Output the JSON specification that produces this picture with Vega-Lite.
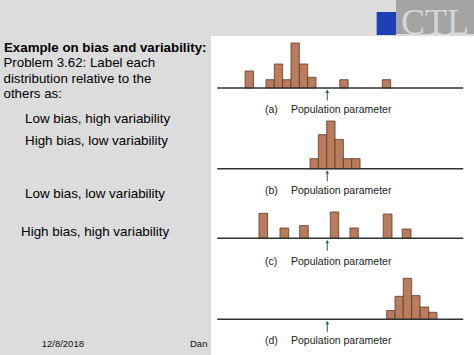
{
  "$schema": "https://vega.github.io/schema/vega-lite/v6.json",
  "autosize": {"type": "pad"},
  "padding": 0,
  "background": "#dcdcdc",
  "config": {"view": {"stroke": null}, "font": "Liberation Sans"},
  "datasets": {
    "slide": [
      {"kind": "heading", "text": "Example on bias and variability:", "x": 4, "y": 51.5},
      {"kind": "body", "text": "Problem 3.62: Label each", "x": 3.5, "y": 67},
      {"kind": "body", "text": "distribution relative to the", "x": 3.5, "y": 83},
      {"kind": "body", "text": "others as:", "x": 3.5, "y": 98},
      {"kind": "item", "text": "Low bias, high variability", "x": 25, "y": 122.5},
      {"kind": "item", "text": "High bias, low variability", "x": 25, "y": 145},
      {"kind": "item", "text": "Low bias, low variability", "x": 25, "y": 197.5},
      {"kind": "item", "text": "High bias, high variability", "x": 21, "y": 235.5},
      {"kind": "footer", "text": "12/8/2018", "x": 41.7, "y": 347},
      {"kind": "footer", "text": "Dan", "x": 190, "y": 347}
    ],
    "bars": [
      {"panel": "a", "lo": -9.85, "hi": -8.85, "height": 17},
      {"panel": "a", "lo": -7.35, "hi": -6.35, "height": 8.3},
      {"panel": "a", "lo": -6.35, "hi": -5.35, "height": 24},
      {"panel": "a", "lo": -5.35, "hi": -4.35, "height": 8.3},
      {"panel": "a", "lo": -4.35, "hi": -3.35, "height": 45},
      {"panel": "a", "lo": -3.35, "hi": -2.35, "height": 24},
      {"panel": "a", "lo": -2.35, "hi": -1.35, "height": 10.7},
      {"panel": "a", "lo": 1.5, "hi": 2.5, "height": 8.3},
      {"panel": "a", "lo": 6.6, "hi": 7.6, "height": 8.3},
      {"panel": "b", "lo": -2.07, "hi": -1.07, "height": 10},
      {"panel": "b", "lo": -1.07, "hi": -0.07, "height": 34},
      {"panel": "b", "lo": -0.07, "hi": 0.93, "height": 47.7},
      {"panel": "b", "lo": 0.93, "hi": 1.93, "height": 29.3},
      {"panel": "b", "lo": 1.93, "hi": 2.93, "height": 10},
      {"panel": "b", "lo": 2.93, "hi": 3.93, "height": 10},
      {"panel": "c", "lo": -8.19, "hi": -7.15, "height": 25},
      {"panel": "c", "lo": -5.67, "hi": -4.63, "height": 10.3},
      {"panel": "c", "lo": -3.31, "hi": -2.28, "height": 12.7},
      {"panel": "c", "lo": 0.36, "hi": 1.37, "height": 26.3},
      {"panel": "c", "lo": 2.72, "hi": 3.72, "height": 10.3},
      {"panel": "c", "lo": 6.71, "hi": 7.76, "height": 24.3},
      {"panel": "c", "lo": 8.99, "hi": 10.04, "height": 9.3},
      {"panel": "d", "lo": 7.12, "hi": 8.12, "height": 8.7},
      {"panel": "d", "lo": 8.12, "hi": 9.11, "height": 23},
      {"panel": "d", "lo": 9.11, "hi": 10.12, "height": 41},
      {"panel": "d", "lo": 10.12, "hi": 11.12, "height": 23.7},
      {"panel": "d", "lo": 11.12, "hi": 12.16, "height": 12.3},
      {"panel": "d", "lo": 12.16, "hi": 13.15, "height": 7}
    ],
    "panels": [
      {"panel": "a", "tag": "(a)", "caption": "Population parameter", "parameter": 0},
      {"panel": "b", "tag": "(b)", "caption": "Population parameter", "parameter": 0},
      {"panel": "c", "tag": "(c)", "caption": "Population parameter", "parameter": 0},
      {"panel": "d", "tag": "(d)", "caption": "Population parameter", "parameter": 0}
    ],
    "logo": [{"name": "CTL"}]
  },
  "spacing": 0,
  "bounds": "flush",
  "hconcat": [
    {
      "width": 211,
      "height": 355,
      "data": {"name": "slide"},
      "encoding": {
        "x": {"field": "x", "type": "quantitative", "scale": {"domain": [0, 211], "nice": false, "zero": false}, "axis": null},
        "y": {"field": "y", "type": "quantitative", "scale": {"domain": [0, 355], "reverse": true, "nice": false, "zero": false}, "axis": null},
        "text": {"field": "text"}
      },
      "layer": [
        {"transform": [{"filter": "datum.kind == 'heading'"}], "mark": {"type": "text", "align": "left", "baseline": "alphabetic", "fontSize": 13.3, "fontWeight": "bold", "color": "#000000"}},
        {"transform": [{"filter": "datum.kind == 'body'"}], "mark": {"type": "text", "align": "left", "baseline": "alphabetic", "fontSize": 13.3, "color": "#000000"}},
        {"transform": [{"filter": "datum.kind == 'item'"}], "mark": {"type": "text", "align": "left", "baseline": "alphabetic", "fontSize": 13.4, "color": "#000000"}},
        {"transform": [{"filter": "datum.kind == 'footer'"}], "mark": {"type": "text", "align": "left", "baseline": "alphabetic", "fontSize": 9.5, "color": "#111111"}}
      ]
    },
    {
      "spacing": 0,
      "bounds": "flush",
      "vconcat": [
        {
          "width": 263,
          "height": 36,
          "data": {"name": "logo"},
          "layer": [
            {"mark": {"type": "rect", "color": "#a4a4a4"}, "encoding": {"x": {"datum": 8.24, "type": "quantitative", "scale": {"domain": [-13.94, 17.59], "nice": false, "zero": false}, "axis": null}, "x2": {"datum": 17.59}, "y": {"datum": 2, "type": "quantitative", "scale": {"domain": [0, 36], "nice": false, "zero": false}, "axis": null}, "y2": {"datum": 36}}},
            {"mark": {"type": "rect", "color": "#1f3fb4"}, "encoding": {"x": {"datum": 5.92, "type": "quantitative"}, "x2": {"datum": 8.24}, "y": {"datum": 1, "type": "quantitative"}, "y2": {"datum": 24}}},
            {"mark": {"type": "text", "fontSize": 36, "font": "Liberation Serif", "color": "#d6d6d6", "align": "center", "baseline": "alphabetic"}, "encoding": {"x": {"datum": 12.9, "type": "quantitative"}, "y": {"datum": 2.5, "type": "quantitative"}, "text": {"field": "name"}}}
          ]
        },
        {
          "width": 263, "height": 81,
          "view": {"fill": "white", "stroke": null},
          "layer": [
            {"data": {"name": "bars"}, "transform": [{"filter": "datum.panel == 'a'"}], "mark": {"type": "rect", "fill": "#b97c5d", "stroke": "#5e3a2a", "strokeWidth": 0.8},
             "encoding": {"x": {"field": "lo", "type": "quantitative", "scale": {"domain": [-13.94, 17.59], "nice": false, "zero": false}, "axis": null}, "x2": {"field": "hi"}, "y": {"field": "height", "type": "quantitative", "scale": {"domain": [-29, 52], "nice": false, "zero": false}, "axis": null}, "y2": {"datum": 0}}},
            {"data": {"name": "panels"}, "transform": [{"filter": "datum.panel == 'a'"}],
             "layer": [
               {"mark": {"type": "rule", "color": "#333333", "strokeWidth": 1.5}, "encoding": {"x": {"datum": -13.2, "type": "quantitative"}, "x2": {"datum": 16.3}, "y": {"datum": 0, "type": "quantitative"}}},
               {"mark": {"type": "rule", "color": "#2e5e50", "strokeWidth": 1}, "encoding": {"x": {"field": "parameter", "type": "quantitative"}, "y": {"datum": -3, "type": "quantitative"}, "y2": {"datum": -12.5}}},
               {"mark": {"type": "point", "shape": "triangle-up", "filled": true, "size": 14, "color": "#2e5e50", "opacity": 1}, "encoding": {"x": {"field": "parameter", "type": "quantitative"}, "y": {"datum": -3.3, "type": "quantitative"}}},
               {"mark": {"type": "text", "align": "left", "baseline": "middle", "fontSize": 10.5, "color": "#222222"}, "encoding": {"x": {"datum": -7.47, "type": "quantitative"}, "y": {"datum": -22, "type": "quantitative"}, "text": {"field": "tag"}}},
               {"mark": {"type": "text", "align": "left", "baseline": "middle", "fontSize": 10.5, "color": "#222222"}, "encoding": {"x": {"datum": -4.35, "type": "quantitative"}, "y": {"datum": -22, "type": "quantitative"}, "text": {"field": "caption"}}}
             ]}
          ]
        },
        {
          "width": 263, "height": 83,
          "view": {"fill": "white", "stroke": null},
          "layer": [
            {"data": {"name": "bars"}, "transform": [{"filter": "datum.panel == 'b'"}], "mark": {"type": "rect", "fill": "#b97c5d", "stroke": "#5e3a2a", "strokeWidth": 0.8},
             "encoding": {"x": {"field": "lo", "type": "quantitative", "scale": {"domain": [-13.94, 17.59], "nice": false, "zero": false}, "axis": null}, "x2": {"field": "hi"}, "y": {"field": "height", "type": "quantitative", "scale": {"domain": [-31.3, 51.7], "nice": false, "zero": false}, "axis": null}, "y2": {"datum": 0}}},
            {"data": {"name": "panels"}, "transform": [{"filter": "datum.panel == 'b'"}],
             "layer": [
               {"mark": {"type": "rule", "color": "#333333", "strokeWidth": 1.5}, "encoding": {"x": {"datum": -13.2, "type": "quantitative"}, "x2": {"datum": 16.3}, "y": {"datum": 0, "type": "quantitative"}}},
               {"mark": {"type": "rule", "color": "#2e5e50", "strokeWidth": 1}, "encoding": {"x": {"field": "parameter", "type": "quantitative"}, "y": {"datum": -3, "type": "quantitative"}, "y2": {"datum": -12.5}}},
               {"mark": {"type": "point", "shape": "triangle-up", "filled": true, "size": 14, "color": "#2e5e50", "opacity": 1}, "encoding": {"x": {"field": "parameter", "type": "quantitative"}, "y": {"datum": -3.3, "type": "quantitative"}}},
               {"mark": {"type": "text", "align": "left", "baseline": "middle", "fontSize": 10.5, "color": "#222222"}, "encoding": {"x": {"datum": -7.47, "type": "quantitative"}, "y": {"datum": -22, "type": "quantitative"}, "text": {"field": "tag"}}},
               {"mark": {"type": "text", "align": "left", "baseline": "middle", "fontSize": 10.5, "color": "#222222"}, "encoding": {"x": {"datum": -4.35, "type": "quantitative"}, "y": {"datum": -22, "type": "quantitative"}, "text": {"field": "caption"}}}
             ]}
          ]
        },
        {
          "width": 263, "height": 70,
          "view": {"fill": "white", "stroke": null},
          "layer": [
            {"data": {"name": "bars"}, "transform": [{"filter": "datum.panel == 'c'"}], "mark": {"type": "rect", "fill": "#b97c5d", "stroke": "#5e3a2a", "strokeWidth": 0.8},
             "encoding": {"x": {"field": "lo", "type": "quantitative", "scale": {"domain": [-13.94, 17.59], "nice": false, "zero": false}, "axis": null}, "x2": {"field": "hi"}, "y": {"field": "height", "type": "quantitative", "scale": {"domain": [-31.7, 38.3], "nice": false, "zero": false}, "axis": null}, "y2": {"datum": 0}}},
            {"data": {"name": "panels"}, "transform": [{"filter": "datum.panel == 'c'"}],
             "layer": [
               {"mark": {"type": "rule", "color": "#333333", "strokeWidth": 1.5}, "encoding": {"x": {"datum": -13.2, "type": "quantitative"}, "x2": {"datum": 16.3}, "y": {"datum": 0, "type": "quantitative"}}},
               {"mark": {"type": "rule", "color": "#2e5e50", "strokeWidth": 1}, "encoding": {"x": {"field": "parameter", "type": "quantitative"}, "y": {"datum": -3, "type": "quantitative"}, "y2": {"datum": -12.5}}},
               {"mark": {"type": "point", "shape": "triangle-up", "filled": true, "size": 14, "color": "#2e5e50", "opacity": 1}, "encoding": {"x": {"field": "parameter", "type": "quantitative"}, "y": {"datum": -3.3, "type": "quantitative"}}},
               {"mark": {"type": "text", "align": "left", "baseline": "middle", "fontSize": 10.5, "color": "#222222"}, "encoding": {"x": {"datum": -7.47, "type": "quantitative"}, "y": {"datum": -23.4, "type": "quantitative"}, "text": {"field": "tag"}}},
               {"mark": {"type": "text", "align": "left", "baseline": "middle", "fontSize": 10.5, "color": "#222222"}, "encoding": {"x": {"datum": -4.35, "type": "quantitative"}, "y": {"datum": -23.4, "type": "quantitative"}, "text": {"field": "caption"}}}
             ]}
          ]
        },
        {
          "width": 263, "height": 85,
          "view": {"fill": "white", "stroke": null},
          "layer": [
            {"data": {"name": "bars"}, "transform": [{"filter": "datum.panel == 'd'"}], "mark": {"type": "rect", "fill": "#b97c5d", "stroke": "#5e3a2a", "strokeWidth": 0.8},
             "encoding": {"x": {"field": "lo", "type": "quantitative", "scale": {"domain": [-13.94, 17.59], "nice": false, "zero": false}, "axis": null}, "x2": {"field": "hi"}, "y": {"field": "height", "type": "quantitative", "scale": {"domain": [-35.7, 49.3], "nice": false, "zero": false}, "axis": null}, "y2": {"datum": 0}}},
            {"data": {"name": "panels"}, "transform": [{"filter": "datum.panel == 'd'"}],
             "layer": [
               {"mark": {"type": "rule", "color": "#333333", "strokeWidth": 1.5}, "encoding": {"x": {"datum": -13.2, "type": "quantitative"}, "x2": {"datum": 16.3}, "y": {"datum": 0, "type": "quantitative"}}},
               {"mark": {"type": "rule", "color": "#2e5e50", "strokeWidth": 1}, "encoding": {"x": {"field": "parameter", "type": "quantitative"}, "y": {"datum": -3, "type": "quantitative"}, "y2": {"datum": -12.5}}},
               {"mark": {"type": "point", "shape": "triangle-up", "filled": true, "size": 14, "color": "#2e5e50", "opacity": 1}, "encoding": {"x": {"field": "parameter", "type": "quantitative"}, "y": {"datum": -3.3, "type": "quantitative"}}},
               {"mark": {"type": "text", "align": "left", "baseline": "middle", "fontSize": 10.5, "color": "#222222"}, "encoding": {"x": {"datum": -7.47, "type": "quantitative"}, "y": {"datum": -21.4, "type": "quantitative"}, "text": {"field": "tag"}}},
               {"mark": {"type": "text", "align": "left", "baseline": "middle", "fontSize": 10.5, "color": "#222222"}, "encoding": {"x": {"datum": -4.35, "type": "quantitative"}, "y": {"datum": -21.4, "type": "quantitative"}, "text": {"field": "caption"}}}
             ]}
          ]
        }
      ]
    }
  ]
}
